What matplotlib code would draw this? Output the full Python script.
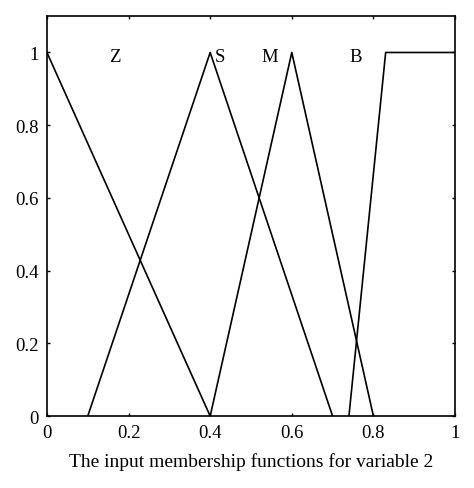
import matplotlib
matplotlib.use("Agg")
import matplotlib.pyplot as plt

# membership function breakpoints (x, mu)
z_x, z_y = [0.0, 0.4], [1.0, 0.0]
s_x, s_y = [0.1, 0.4, 0.7], [0.0, 1.0, 0.0]
m_x, m_y = [0.4, 0.6, 0.8], [0.0, 1.0, 0.0]
b_x, b_y = [0.74, 0.83, 1.0], [0.0, 1.0, 1.0]

labels = ["Z", "S", "M", "B"]
label_x = [0.167, 0.424, 0.547, 0.757]
label_y = 0.99

xticks = [0, 0.2, 0.4, 0.6, 0.8, 1]
xticklabels = ["0", "0.2", "0.4", "0.6", "0.8", "1"]
yticks = [0, 0.2, 0.4, 0.6, 0.8, 1]
yticklabels = ["0", "0.2", "0.4", "0.6", "0.8", "1"]

plt.rcParams["font.family"] = ["Liberation Serif", "DejaVu Serif"]

fig = plt.figure(figsize=(4.74, 4.89), dpi=100)
ax = fig.add_axes([0.099, 0.147, 0.861, 0.818])

for xs, ys in [(z_x, z_y), (s_x, s_y), (m_x, m_y), (b_x, b_y)]:
    ax.plot(xs, ys, color="black", lw=1.2)

for lab, lx in zip(labels, label_x):
    ax.text(lx, label_y, lab, ha="center", va="center", fontsize=13.5)

ax.set_xlim(0, 1)
ax.set_ylim(0, 1.1)
ax.set_xticks(xticks)
ax.set_xticklabels(xticklabels)
ax.set_yticks(yticks)
ax.set_yticklabels(yticklabels)
ax.tick_params(direction="in", top=True, right=True, labelsize=13.5,
               length=2.5, width=1)
ax.tick_params(axis="y", pad=6)
ax.tick_params(axis="x", pad=6)
for sp in ax.spines.values():
    sp.set_linewidth(1.2)
ax.set_xlabel("The input membership functions for variable 2", fontsize=14,
              labelpad=8)

fig.savefig("out.png", dpi=100)
